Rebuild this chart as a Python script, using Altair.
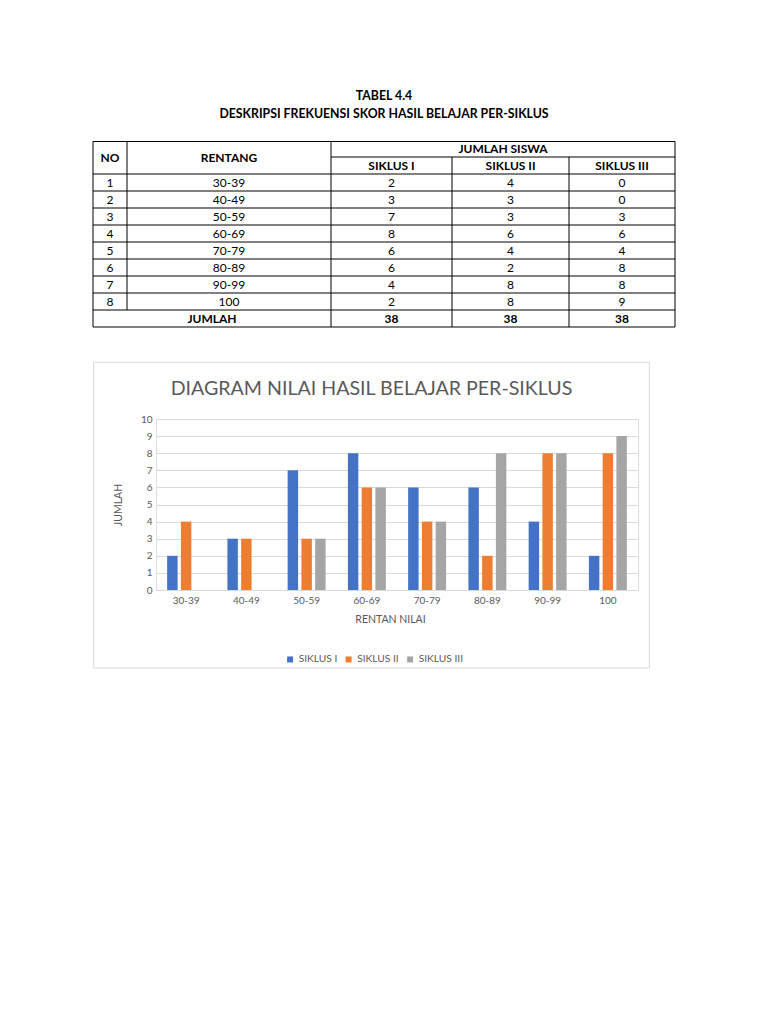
import altair as alt
import pandas as pd

# ---------------- data ----------------
rentang = ["30-39", "40-49", "50-59", "60-69", "70-79", "80-89", "90-99", "100"]
nomor = [1, 2, 3, 4, 5, 6, 7, 8]
siklus_names = ["SIKLUS I", "SIKLUS II", "SIKLUS III"]
siklus_1 = [2, 3, 7, 8, 6, 6, 4, 2]
siklus_2 = [4, 3, 3, 6, 4, 2, 8, 8]
siklus_3 = [0, 0, 3, 6, 4, 8, 8, 9]
table_title = ["TABEL 4.4", "DESKRIPSI FREKUENSI SKOR HASIL BELAJAR PER-SIKLUS"]
header_no = "NO"
header_rentang = "RENTANG"
header_group = "JUMLAH SISWA"
total_label = "JUMLAH"
chart_title = "DIAGRAM NILAI HASIL BELAJAR PER-SIKLUS"
x_title = "RENTAN NILAI"
y_title = "JUMLAH"
y_ticks = list(range(0, 11))

# ---------------- style / layout ----------------
colors = ["#4472C4", "#ED7D31", "#A5A5A5"]
GRAY_TXT = "#595959"
GRID = "#d9d9d9"
FONT = "Lato"
TFS = 12                               # table font size
W, H = 482, 171                        # plot area
col_edges = [0, 34, 238, 359, 476, 582]   # table columns (table units)
head_mid, head_bot, row_h = 15.5, 32.5, 17.0
n_rows = len(rentang) + 1
tab_bottom = head_bot + row_h * n_rows
title_y = [-45.5, -27.5]

tx = alt.Scale(domain=[0, 582], range=[-63, 519], nice=False, zero=False)
ty = alt.Scale(domain=[0, 186], range=[-277.5, -91.5], nice=False, zero=False)

series = [siklus_1, siklus_2, siklus_3]
totals = [sum(s) for s in series]
centers = [(col_edges[i] + col_edges[i + 1]) / 2 for i in range(5)]

# ---------- table lines ----------
lines = []
full = [0, head_bot] + [head_bot + row_h * k for k in range(1, n_rows + 1)]
for yv in full:
    lines.append(dict(x=col_edges[0], x2=col_edges[-1], y=yv, y2=yv))
lines.append(dict(x=col_edges[2], x2=col_edges[-1], y=head_mid, y2=head_mid))
lines.append(dict(x=col_edges[0], x2=col_edges[0], y=0, y2=tab_bottom))
lines.append(dict(x=col_edges[-1], x2=col_edges[-1], y=0, y2=tab_bottom))
lines.append(dict(x=col_edges[1], x2=col_edges[1], y=0, y2=tab_bottom - row_h))
lines.append(dict(x=col_edges[2], x2=col_edges[2], y=0, y2=tab_bottom))
lines.append(dict(x=col_edges[3], x2=col_edges[3], y=head_mid, y2=tab_bottom))
lines.append(dict(x=col_edges[4], x2=col_edges[4], y=head_mid, y2=tab_bottom))
lines_df = pd.DataFrame(lines)

# ---------- table texts ----------
titles, bold, normal = [], [], []
mid_x = (col_edges[0] + col_edges[-1]) / 2
for t, yv in zip(table_title, title_y):
    titles.append(dict(x=mid_x, y=yv, t=t))
bold.append(dict(x=centers[0], y=head_bot / 2, t=header_no))
bold.append(dict(x=centers[1], y=head_bot / 2, t=header_rentang))
bold.append(dict(x=(col_edges[2] + col_edges[-1]) / 2, y=head_mid / 2, t=header_group))
for j, nm in enumerate(siklus_names):
    bold.append(dict(x=centers[2 + j], y=(head_mid + head_bot) / 2, t=nm))
for k in range(len(rentang)):
    yv = head_bot + row_h * k + row_h / 2
    normal.append(dict(x=centers[0], y=yv, t=str(nomor[k])))
    normal.append(dict(x=centers[1], y=yv, t=rentang[k]))
    for j in range(3):
        normal.append(dict(x=centers[2 + j], y=yv, t=str(series[j][k])))
yv = head_bot + row_h * len(rentang) + row_h / 2
bold.append(dict(x=(col_edges[0] + col_edges[2]) / 2, y=yv, t=total_label))
for j in range(3):
    bold.append(dict(x=centers[2 + j], y=yv, t=str(totals[j])))

titles_df = pd.DataFrame(titles)
bold_df = pd.DataFrame(bold)
normal_df = pd.DataFrame(normal)

table_lines = alt.Chart(lines_df).mark_rule(color="black", strokeWidth=1).encode(
    x=alt.X("x:Q", scale=tx, axis=None), x2="x2:Q",
    y=alt.Y("y:Q", scale=ty, axis=None), y2="y2:Q")

table_titles = alt.Chart(titles_df).mark_text(
    font=FONT, fontSize=12.3, fontWeight="bold", color="black", baseline="middle", align="center"
).encode(x=alt.X("x:Q", scale=tx, axis=None), y=alt.Y("y:Q", scale=ty, axis=None), text="t:N")

table_bold = alt.Chart(bold_df).mark_text(
    font=FONT, fontSize=TFS, fontWeight="bold", color="black", baseline="middle", align="center"
).encode(x=alt.X("x:Q", scale=tx, axis=None), y=alt.Y("y:Q", scale=ty, axis=None), text="t:N")

table_norm = alt.Chart(normal_df).mark_text(
    font=FONT, fontSize=TFS, color="black", baseline="middle", align="center"
).encode(x=alt.X("x:Q", scale=tx, axis=None), y=alt.Y("y:Q", scale=ty, axis=None), text="t:N")

# ---------- bar chart ----------
rows = []
for j, nm in enumerate(siklus_names):
    for k, r in enumerate(rentang):
        rows.append(dict(rentang=r, siklus=nm, jumlah=series[j][k]))
bars_df = pd.DataFrame(rows)

bars = alt.Chart(bars_df).mark_bar().encode(
    x=alt.X("rentang:N", sort=rentang,
            scale=alt.Scale(paddingInner=0.37, paddingOuter=0.185),
            axis=alt.Axis(title=x_title, labelAngle=0, domain=True, domainColor=GRID,
                          ticks=False, grid=False, labelPadding=5, labelColor=GRAY_TXT,
                          labelFont=FONT, labelFontSize=10, titleFont=FONT, titleFontSize=10.5,
                          titleFontWeight="normal", titleColor=GRAY_TXT,
                          titleX=234, titleY=29, titleBaseline="middle", titleAlign="center")),
    xOffset=alt.XOffset("siklus:N", sort=siklus_names,
                        scale=alt.Scale(paddingInner=0.24, paddingOuter=0)),
    y=alt.Y("jumlah:Q", scale=alt.Scale(domain=[0, 10], nice=False),
            axis=alt.Axis(values=y_ticks, title=y_title, grid=True, gridColor=GRID,
                          domain=False, ticks=False, labelPadding=4, labelColor=GRAY_TXT,
                          labelFont=FONT, labelFontSize=10, titleFont=FONT, titleFontSize=10.5,
                          titleFontWeight="normal", titleColor=GRAY_TXT,
                          titleX=-38, titleY=85.5, titleAngle=270,
                          titleAlign="center", titleBaseline="middle")),
    color=alt.Color("siklus:N", sort=siklus_names,
                    scale=alt.Scale(domain=siklus_names, range=colors),
                    legend=alt.Legend(orient="none", legendX=129, legendY=235,
                                      direction="horizontal", title=None,
                                      symbolType="square", symbolSize=36,
                                      symbolStrokeWidth=0, labelFont=FONT,
                                      labelFontSize=10.2, labelColor=GRAY_TXT,
                                      labelOffset=3.5, columnPadding=5.5, padding=0)),
)

frame = alt.Chart(pd.DataFrame({"f": [0]})).mark_rect(
    fill="white", fillOpacity=0, stroke=GRID, strokeWidth=1
).encode(x=alt.value(-62.3), x2=alt.value(493.3), y=alt.value(-56.7), y2=alt.value(249))

title_mark = alt.Chart(pd.DataFrame({"t": [chart_title]})).mark_text(
    font=FONT, fontSize=19.6, color=GRAY_TXT, align="center", baseline="middle"
).encode(text="t:N", x=alt.value(215.5), y=alt.value(-30))

chart = alt.layer(frame, table_lines, table_norm, table_bold, table_titles, bars, title_mark).resolve_scale(
    x="independent", y="independent"
).properties(
    width=W, height=H,
    autosize=alt.AutoSizeParams(type="none"),
    padding={"left": 148, "top": 411, "right": 114, "bottom": 400},
).configure_view(stroke=None).configure(font=FONT, background="white")

chart.save("out.html", embed_options={"renderer": "svg", "actions": False})
